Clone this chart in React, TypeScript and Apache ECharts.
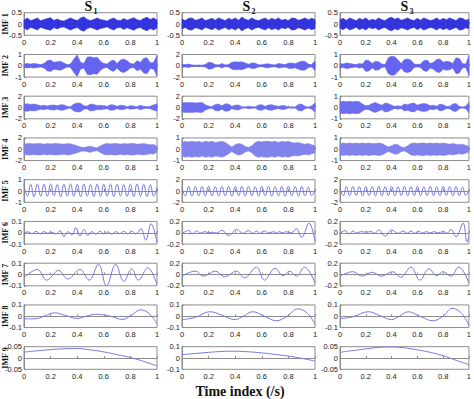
import React, { useEffect, useRef } from 'react';
import * as echarts from 'echarts';

// ---------- shared axes ----------
const T = [0, 0.025, 0.05, 0.075, 0.1, 0.125, 0.15, 0.175, 0.2, 0.225, 0.25, 0.275, 0.3, 0.325, 0.35, 0.375, 0.4, 0.425, 0.45, 0.475, 0.5, 0.525, 0.55, 0.575, 0.6, 0.625, 0.65, 0.675, 0.7, 0.725, 0.75, 0.775, 0.8, 0.825, 0.85, 0.875, 0.9, 0.925, 0.95, 0.975, 1];
const columnTitles = ['1', '2', '3'];
const imfNames = ['IMF 1', 'IMF 2', 'IMF 3', 'IMF 4', 'IMF 5', 'IMF 6', 'IMF 7', 'IMF 8', 'IMF 9'];
const yLimits = [
  [0.5, 1, 2, 2, 1, 0.1, 0.1, 0.1, 0.05],
  [0.5, 2, 2, 1, 2, 0.2, 0.2, 0.1, 0.1],
  [0.5, 1, 1, 1, 2, 0.2, 0.2, 0.1, 0.05],
];

// ---------- IMF 1-4: envelope amplitude (band) at times T ----------
const c1Imf1 = [0.18, 0.26, 0.15, 0.2, 0.27, 0.14, 0.2, 0.24, 0.28, 0.16, 0.22, 0.15, 0.13, 0.2, 0.27, 0.2, 0.15, 0.26, 0.32, 0.2, 0.15, 0.2, 0.27, 0.2, 0.17, 0.13, 0.21, 0.27, 0.17, 0.15, 0.24, 0.17, 0.22, 0.28, 0.19, 0.15, 0.24, 0.3, 0.2, 0.27, 0.18];
const c1Imf2 = [0.15, 0.2, 0.15, 0.2, 0.15, 0.1, 0.2, 0.45, 0.5, 0.3, 0.35, 0.4, 0.25, 0.1, 0.15, 0.6, 0.95, 0.3, 0.2, 0.75, 0.8, 0.7, 0.75, 0.4, 0.2, 0.15, 0.4, 0.5, 0.2, 0.5, 0.6, 0.45, 0.2, 0.15, 0.45, 0.3, 0.65, 0.7, 0.25, 0.3, 0.9];
const c1Imf3 = [0.6, 0.65, 0.55, 0.6, 0.5, 0.3, 0.4, 0.25, 0.4, 0.45, 0.3, 0.5, 0.45, 0.2, 0.15, 0.6, 0.8, 0.75, 0.3, 0.25, 0.6, 0.55, 0.35, 0.4, 0.3, 0.2, 0.5, 0.45, 0.2, 0.4, 0.35, 0.15, 0.3, 0.25, 0.15, 0.4, 0.2, 0.15, 0.2, 0.5, 0.6];
const c1Imf4 = [0.9, 1.0, 1.0, 0.95, 1.0, 1.0, 0.9, 1.0, 0.95, 1.0, 1.0, 0.95, 0.9, 1.0, 0.95, 0.8, 0.6, 0.4, 0.3, 0.45, 0.55, 0.35, 0.25, 0.6, 0.9, 1.0, 0.95, 1.0, 1.0, 0.9, 1.0, 0.95, 1.0, 1.0, 0.9, 0.95, 1.0, 0.9, 0.8, 0.85, 0.5];
const c2Imf1 = [0.22, 0.15, 0.25, 0.27, 0.17, 0.2, 0.27, 0.15, 0.2, 0.25, 0.17, 0.27, 0.21, 0.15, 0.25, 0.19, 0.27, 0.17, 0.31, 0.21, 0.17, 0.27, 0.19, 0.15, 0.21, 0.27, 0.17, 0.25, 0.19, 0.27, 0.17, 0.21, 0.15, 0.27, 0.25, 0.17, 0.21, 0.27, 0.19, 0.25, 0.2];
const c2Imf2 = [0.25, 0.2, 0.3, 0.15, 0.1, 0.15, 0.1, 0.2, 0.6, 0.55, 0.2, 0.15, 0.4, 0.15, 0.2, 0.6, 0.7, 0.65, 0.7, 0.5, 0.25, 0.5, 0.45, 0.2, 0.15, 0.3, 0.35, 0.2, 0.15, 0.4, 0.3, 0.2, 0.45, 0.5, 0.35, 0.6, 0.8, 0.75, 0.3, 0.2, 0.85];
const c2Imf3 = [0.8, 0.9, 0.85, 0.9, 0.8, 0.85, 0.9, 0.5, 0.2, 0.15, 0.55, 0.6, 0.3, 0.65, 0.6, 0.2, 0.4, 0.45, 0.15, 0.1, 0.2, 0.15, 0.1, 0.45, 0.5, 0.2, 0.45, 0.5, 0.3, 0.2, 0.35, 0.3, 0.1, 0.15, 0.1, 0.55, 0.6, 0.2, 0.1, 0.3, 0.8];
const c2Imf4 = [0.6, 0.7, 0.65, 0.7, 0.65, 0.7, 0.6, 0.7, 0.65, 0.7, 0.6, 0.65, 0.7, 0.6, 0.4, 0.2, 0.4, 0.5, 0.45, 0.25, 0.15, 0.3, 0.6, 0.7, 0.65, 0.7, 0.7, 0.65, 0.7, 0.6, 0.7, 0.65, 0.7, 0.6, 0.55, 0.6, 0.5, 0.45, 0.5, 0.4, 0.3];
const c3Imf1 = [0.19, 0.25, 0.16, 0.27, 0.21, 0.14, 0.25, 0.19, 0.27, 0.15, 0.21, 0.17, 0.27, 0.19, 0.15, 0.25, 0.3, 0.21, 0.27, 0.17, 0.21, 0.27, 0.19, 0.15, 0.25, 0.17, 0.27, 0.21, 0.15, 0.19, 0.27, 0.17, 0.25, 0.19, 0.27, 0.21, 0.15, 0.27, 0.25, 0.17, 0.21];
const c3Imf2 = [0.2, 0.15, 0.25, 0.2, 0.15, 0.1, 0.2, 0.15, 0.5, 0.45, 0.2, 0.4, 0.35, 0.15, 0.1, 0.7, 0.85, 0.8, 0.5, 0.2, 0.55, 0.6, 0.5, 0.15, 0.1, 0.15, 0.45, 0.5, 0.2, 0.3, 0.55, 0.6, 0.3, 0.4, 0.35, 0.2, 0.7, 0.65, 0.2, 0.15, 0.85];
const c3Imf3 = [0.5, 0.55, 0.5, 0.55, 0.5, 0.55, 0.5, 0.3, 0.15, 0.2, 0.35, 0.45, 0.3, 0.2, 0.4, 0.35, 0.2, 0.1, 0.15, 0.1, 0.3, 0.25, 0.35, 0.4, 0.2, 0.3, 0.35, 0.3, 0.15, 0.2, 0.1, 0.3, 0.25, 0.1, 0.1, 0.3, 0.35, 0.1, 0.05, 0.1, 0.45];
const c3Imf4 = [0.5, 0.55, 0.5, 0.55, 0.5, 0.55, 0.5, 0.55, 0.5, 0.55, 0.5, 0.5, 0.55, 0.5, 0.35, 0.2, 0.3, 0.45, 0.4, 0.2, 0.15, 0.3, 0.5, 0.55, 0.5, 0.55, 0.55, 0.5, 0.55, 0.5, 0.55, 0.5, 0.55, 0.5, 0.45, 0.5, 0.45, 0.4, 0.45, 0.35, 0.25];

// ---------- IMF 5: extrema times and values ----------
const x5 = [0, 0.026, 0.05, 0.075, 0.1, 0.126, 0.15, 0.175, 0.2, 0.225, 0.25, 0.276, 0.3, 0.325, 0.35, 0.375, 0.4, 0.426, 0.45, 0.475, 0.5, 0.525, 0.55, 0.576, 0.6, 0.625, 0.65, 0.675, 0.7, 0.726, 0.75, 0.775, 0.8, 0.825, 0.85, 0.876, 0.9, 0.925, 0.95, 0.975, 1.0];
const c1Imf5 = [0.55, -0.45, 0.6, -0.5, 0.62, -0.45, 0.6, -0.48, 0.62, -0.45, 0.58, -0.5, 0.6, -0.45, 0.62, -0.48, 0.6, -0.5, 0.62, -0.45, 0.58, -0.5, 0.62, -0.48, 0.6, -0.45, 0.62, -0.5, 0.6, -0.45, 0.58, -0.48, 0.6, -0.5, 0.62, -0.45, 0.6, -0.5, 0.55, -0.45, 0.3];
const c2Imf5 = [0.6, -0.85, 0.8, -0.9, 0.75, -0.85, 0.8, -0.9, 0.8, -0.85, 0.75, -0.9, 0.8, -0.85, 0.8, -0.9, 0.75, -0.85, 0.8, -0.9, 0.8, -0.85, 0.75, -0.9, 0.8, -0.85, 0.8, -0.9, 0.75, -0.85, 0.8, -0.9, 0.8, -0.85, 0.75, -0.9, 0.8, -0.85, 0.7, -0.8, 0.2];
const c3Imf5 = [0.65, -0.8, 0.75, -0.85, 0.8, -0.8, 0.75, -0.85, 0.8, -0.8, 0.75, -0.85, 0.8, -0.85, 0.75, -0.8, 0.8, -0.85, 0.75, -0.8, 0.8, -0.85, 0.75, -0.8, 0.8, -0.85, 0.75, -0.8, 0.8, -0.85, 0.75, -0.85, 0.8, -0.8, 0.75, -0.85, 0.8, -0.8, 0.7, -0.75, 0.1];

// ---------- IMF 6-9: [time, value] points ----------
const c1Imf6 = [[0, 0], [0.03, 0.008], [0.06, -0.008], [0.09, 0.012], [0.12, -0.01], [0.15, 0.01], [0.18, -0.005], [0.21, 0.005], [0.24, -0.01], [0.27, 0.018], [0.3, -0.035], [0.33, 0.01], [0.36, -0.02], [0.39, 0.045], [0.42, -0.03], [0.45, 0.03], [0.48, -0.025], [0.51, 0.01], [0.54, -0.012], [0.57, 0.015], [0.6, -0.01], [0.63, 0.008], [0.66, -0.012], [0.69, 0.01], [0.72, -0.008], [0.75, 0.012], [0.78, -0.01], [0.81, 0.015], [0.84, -0.01], [0.88, 0.035], [0.915, -0.065], [0.955, 0.08], [1, -0.085]];
const c1Imf7 = [[0, -0.03], [0.1, 0.045], [0.17, -0.05], [0.26, 0.035], [0.33, -0.04], [0.42, 0.045], [0.49, -0.05], [0.56, 0.09], [0.62, -0.1], [0.69, 0.09], [0.75, -0.06], [0.81, 0.05], [0.86, -0.05], [0.93, 0.06], [1, -0.09]];
const c1Imf8 = [[0, -0.022], [0.05, -0.023], [0.1, -0.02], [0.16, 0.005], [0.23, 0.03], [0.31, 0.008], [0.4, -0.02], [0.47, 0.002], [0.55, 0.018], [0.65, 0.0], [0.74, -0.028], [0.81, 0.01], [0.875, 0.057], [0.94, 0.025], [1, -0.068]];
const c1Imf9 = [[0, 0.026], [0.1, 0.032], [0.2, 0.037], [0.3, 0.041], [0.4, 0.042], [0.5, 0.036], [0.6, 0.027], [0.7, 0.015], [0.8, 0.002], [0.9, -0.015], [1, -0.035]];
const c2Imf6 = [[0, -0.015], [0.05, 0.04], [0.075, -0.02], [0.11, 0.03], [0.14, -0.005], [0.17, 0.02], [0.2, 0.0], [0.23, 0.01], [0.26, -0.005], [0.3, 0.045], [0.35, -0.05], [0.41, 0.06], [0.46, -0.01], [0.5, 0.04], [0.53, -0.01], [0.56, 0.03], [0.59, -0.01], [0.62, 0.03], [0.65, -0.005], [0.69, 0.02], [0.71, -0.005], [0.73, 0.02], [0.76, -0.005], [0.78, 0.02], [0.82, -0.005], [0.86, 0.07], [0.9, -0.08], [0.955, 0.17], [1, -0.15]];
const c2Imf7 = [[0, -0.03], [0.1, 0.06], [0.16, -0.03], [0.25, 0.06], [0.32, -0.04], [0.41, 0.06], [0.47, -0.06], [0.56, 0.13], [0.62, -0.1], [0.7, 0.11], [0.76, -0.02], [0.81, 0.06], [0.86, -0.03], [0.92, 0.13], [1, -0.15]];
const c2Imf8 = [[0, -0.03], [0.1, -0.01], [0.21, 0.04], [0.3, 0.01], [0.4, -0.03], [0.46, 0.0], [0.53, 0.04], [0.62, 0.0], [0.71, -0.04], [0.79, 0.0], [0.87, 0.065], [0.94, 0.03], [1, -0.07]];
const c2Imf9 = [[0, 0.03], [0.1, 0.04], [0.2, 0.05], [0.3, 0.058], [0.4, 0.06], [0.5, 0.055], [0.6, 0.045], [0.7, 0.032], [0.8, 0.017], [0.9, -0.003], [1, -0.027]];
const c3Imf6 = [[0, -0.01], [0.04, 0.04], [0.07, -0.02], [0.1, 0.03], [0.13, -0.005], [0.16, 0.02], [0.2, 0.01], [0.24, 0.02], [0.27, -0.01], [0.3, 0.05], [0.35, -0.06], [0.4, 0.05], [0.45, -0.01], [0.49, 0.03], [0.52, -0.01], [0.55, 0.03], [0.58, -0.01], [0.61, 0.025], [0.64, -0.005], [0.67, 0.02], [0.7, -0.005], [0.73, 0.02], [0.76, -0.005], [0.8, 0.02], [0.83, -0.01], [0.86, 0.06], [0.9, -0.07], [0.955, 0.17], [0.985, -0.16], [1, -0.05]];
const c3Imf7 = [[0, -0.03], [0.1, 0.05], [0.17, -0.03], [0.25, 0.04], [0.32, -0.03], [0.41, 0.05], [0.47, -0.05], [0.55, 0.13], [0.62, -0.1], [0.69, 0.1], [0.75, -0.02], [0.8, 0.05], [0.86, -0.03], [0.92, 0.13], [1, -0.15]];
const c3Imf8 = [[0, -0.02], [0.1, -0.005], [0.22, 0.04], [0.31, 0.005], [0.4, -0.03], [0.46, 0.0], [0.53, 0.04], [0.62, 0.0], [0.72, -0.04], [0.8, 0.0], [0.87, 0.07], [0.94, 0.03], [1, -0.08]];
const c3Imf9 = [[0, 0.025], [0.1, 0.033], [0.2, 0.04], [0.3, 0.047], [0.4, 0.049], [0.5, 0.045], [0.6, 0.036], [0.7, 0.025], [0.8, 0.01], [0.9, -0.01], [1, -0.03]];

const bands = [
  [c1Imf1, c1Imf2, c1Imf3, c1Imf4],
  [c2Imf1, c2Imf2, c2Imf3, c2Imf4],
  [c3Imf1, c3Imf2, c3Imf3, c3Imf4],
];
const imf5 = [c1Imf5, c2Imf5, c3Imf5];
const lowImfs = [
  [c1Imf6, c1Imf7, c1Imf8, c1Imf9],
  [c2Imf6, c2Imf7, c2Imf8, c2Imf9],
  [c3Imf6, c3Imf7, c3Imf8, c3Imf9],
];

const COL_LEFT = [24, 182, 340];
const COL_W = 133;
const ROW_TOP0 = 12.7;
const ROW_STEP = 41.75;
const ROW_H = 22.6;
const LINE_COLOR = '#7878e6';
const BAND_COLORS = ['#3434dc', '#6464ee', '#6c6cee', '#8282ec'];
const AXIS_COLOR = '#8c8c8c';
const LABEL_FONT = 'Liberation Sans, Arial, sans-serif';
const SERIF = 'Liberation Serif, Times New Roman, serif';

export default function App() {
  const ref = useRef<HTMLDivElement>(null);
  useEffect(() => {
    if (!ref.current) return;
    const chart = echarts.init(ref.current, undefined, { renderer: 'svg' });
    const grid: any[] = [];
    const xAxis: any[] = [];
    const yAxis: any[] = [];
    const series: any[] = [];
    const graphic: any[] = [];

    for (let c = 0; c < 3; c++) {
      for (let r = 0; r < 9; r++) {
        const idx = c * 9 + r;
        const top = ROW_TOP0 + r * ROW_STEP;
        grid.push({
          left: COL_LEFT[c], top, width: COL_W, height: ROW_H,
          show: true, borderColor: AXIS_COLOR, borderWidth: 1, backgroundColor: '#fff',
        });
        xAxis.push({
          type: 'value', gridIndex: idx, min: 0, max: 1, interval: 0.2,
          axisLine: { show: true, lineStyle: { color: AXIS_COLOR, width: 1 } },
          axisTick: { show: true, inside: true, length: 2, lineStyle: { color: AXIS_COLOR } },
          splitLine: { show: false },
          axisLabel: { fontSize: 7.5, color: '#222', fontFamily: LABEL_FONT, margin: 3 },
        });
        const lim = yLimits[c][r];
        yAxis.push({
          type: 'value', gridIndex: idx, min: -lim, max: lim, interval: lim,
          axisLine: { show: true, lineStyle: { color: AXIS_COLOR, width: 1 } },
          axisTick: { show: true, inside: true, length: 2, lineStyle: { color: AXIS_COLOR } },
          splitLine: { show: false },
          axisLabel: { fontSize: 7.5, color: '#222', fontFamily: LABEL_FONT, margin: 2 },
        });

        if (r < 4) {
          const amp = bands[c][r];
          const color = BAND_COLORS[r];
          series.push({
            type: 'custom', xAxisIndex: idx, yAxisIndex: idx, silent: true,
            data: [[0, 0]],
            renderItem: (_p: any, api: any) => {
              const up = T.map((t, i) => api.coord([t, amp[i]]));
              const dn = T.map((t, i) => api.coord([t, -amp[i]])).reverse();
              return {
                type: 'polygon',
                shape: { points: up.concat(dn) },
                style: { fill: color, stroke: color, lineWidth: 0.6 },
              };
            },
          });
        } else if (r === 4) {
          series.push({
            type: 'line', xAxisIndex: idx, yAxisIndex: idx, symbol: 'none', smooth: 0.5,
            data: x5.map((t, i) => [t, imf5[c][i]]),
            lineStyle: { color: LINE_COLOR, width: 1 },
          });
        } else {
          series.push({
            type: 'line', xAxisIndex: idx, yAxisIndex: idx, symbol: 'none', smooth: 0.4,
            data: lowImfs[c][r - 5],
            lineStyle: { color: LINE_COLOR, width: 1 },
          });
        }

        if (c === 0) {
          graphic.push({
            type: 'text', x: 5, y: top + ROW_H / 2, rotation: Math.PI / 2,
            style: {
              text: imfNames[r], x: 0, y: 0, align: 'center', verticalAlign: 'middle',
              font: `bold 8px ${SERIF}`, fill: '#111',
            },
          });
        }
      }
      const cx = COL_LEFT[c] + COL_W / 2;
      graphic.push({
        type: 'text', x: cx - 2, y: 6,
        style: { text: 'S', x: 0, y: 0, align: 'center', verticalAlign: 'middle', font: `bold 14px ${SERIF}`, fill: '#111' },
      });
      graphic.push({
        type: 'text', x: cx + 5, y: 11,
        style: { text: columnTitles[c], x: 0, y: 0, align: 'center', verticalAlign: 'middle', font: `bold 8px ${SERIF}`, fill: '#111' },
      });
    }
    graphic.push({
      type: 'text', x: 240, y: 391,
      style: { text: 'Time index (/s)', x: 0, y: 0, align: 'center', verticalAlign: 'middle', font: `bold 14px ${SERIF}`, fill: '#111' },
    });

    chart.setOption({ animation: false, backgroundColor: '#fff', grid, xAxis, yAxis, series, graphic });
    return () => chart.dispose();
  }, []);
  return <div ref={ref} style={{ position: 'absolute', left: 0, top: 0, width: 474, height: 399 }} />;
}
